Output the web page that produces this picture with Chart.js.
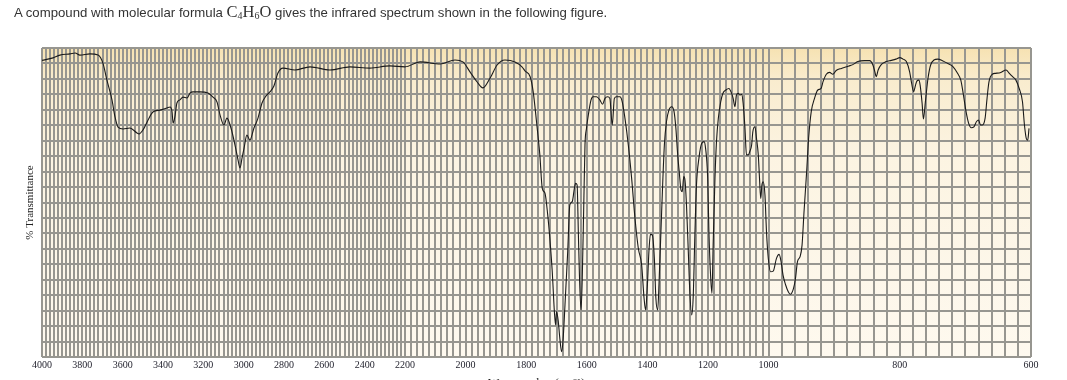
<!DOCTYPE html>
<html>
<head>
<meta charset="utf-8">
<script src="https://cdn.jsdelivr.net/npm/chart.js@4.4.1/dist/chart.umd.min.js"></script>
<style>
html,body{margin:0;padding:0;background:#fff;width:1067px;height:380px;overflow:hidden;}
#wrap{position:relative;width:1067px;height:380px;}
#heading{position:absolute;left:14px;top:3px;font-family:"Liberation Sans",Arial,sans-serif;font-size:13.2px;color:#333;white-space:nowrap;line-height:18px;}
#heading .f{font-family:"Liberation Serif","Times New Roman",serif;font-size:16.5px;color:#333;}
#heading .f sub{font-size:10px;vertical-align:-2px;line-height:0;}
canvas{position:absolute;left:0;top:0;}
</style>
</head>
<body>
<div id="wrap">
<canvas id="c" width="1067" height="380"></canvas>
<div id="heading">A compound with molecular formula <span class="f">C<sub>4</sub>H<sub>6</sub>O</span> gives the infrared spectrum shown in the following figure.</div>
</div>
<script>
// ---- data ----
const WAVENUMBER = [
4000,3945,3911,3861,3836,3812,3762,3722,3698,3678,3653,3638,3623,3598,3564,3529,3519,3499,3474,3450,
3415,3380,3365,3355,3350,3341,3331,3316,3301,3281,3266,3251,3217,3177,3152,3132,3117,3098,3083,3063,
3043,3028,3018,3008,2998,2984,2969,2949,2929,2909,2889,2870,2850,2830,2805,2746,2671,2572,2473,2374,
2275,2200,2150,2084,2035,2009,1985,1962,1943,1919,1896,1870,1837,1814,1804,1787,1777,1766,1755,1747,
1738,1729,1722,1714,1707,1703,1700,1694,1689,1683,1678,1672,1663,1656,1648,1641,1637,1632,1628,1624,
1619,1615,1610,1606,1601,1595,1586,1579,1568,1557,1548,1540,1531,1524,1516,1509,1502,1491,1483,1474,
1463,1452,1441,1430,1419,1411,1406,1400,1395,1390,1384,1377,1372,1366,1361,1353,1344,1337,1329,1320,
1312,1306,1300,1295,1289,1285,1280,1276,1271,1265,1260,1254,1249,1243,1238,1230,1221,1213,1208,1201,
1197,1191,1187,1183,1177,1172,1166,1158,1151,1141,1131,1122,1117,1111,1106,1100,1095,1089,1084,1078,
1073,1067,1062,1056,1052,1045,1040,1034,1030,1026,1022,1018,1012,1007,1001,997,993,988,984,981,
978,974,970,967,962,959,956,952,949,946,942,939,935,930,925,920,917,912,907,902,
897,889,881,876,871,864,854,846,841,838,836,833,828,821,813,806,800,795,790,785,
782,779,776,774,771,769,766,764,761,757,753,748,742,735,727,719,712,707,703,699,
695,691,687,683,680,677,674,670,667,664,659,654,646,638,633,628,623,618,613,610,
607,605,603
];
const TRANSMITTANCE = [
96.0,96.8,97.7,98.1,98.4,97.7,98.1,97.7,95.1,89.6,83.2,77.7,74.4,73.8,74.1,72.5,72.2,73.5,76.7,79.3,
79.9,80.6,80.9,79.3,75.7,77.7,82.2,83.2,84.1,83.8,85.4,85.8,85.8,85.4,84.1,82.5,78.3,75.1,77.3,74.1,
68.6,63.8,61.2,64.4,67.6,71.8,70.2,74.1,77.3,82.2,84.5,85.8,87.7,91.9,93.5,92.9,93.9,92.9,93.9,93.5,
94.2,93.9,95.5,94.8,96.1,95.5,92.2,89.0,87.1,90.3,94.5,96.1,95.5,93.9,92.6,90.7,85.9,76.2,65.4,54.6,
53.0,46.0,38.4,27.6,14.7,10.4,14.7,11.4,6.0,1.7,6.0,16.8,34.1,49.2,50.3,54.6,56.2,55.7,40.6,25.5,
15.2,25.5,49.2,68.6,74.0,78.3,83.2,84.2,84.2,83.2,81.8,83.7,84.2,83.7,75.1,83.7,84.2,84.2,82.6,77.2,
68.6,57.8,44.9,35.2,29.8,19.0,15.2,23.3,34.1,39.7,39.5,31.9,19.0,15.2,25.5,47.0,68.6,76.2,79.9,81.0,
79.4,74.0,65.4,60.0,54.0,53.5,58.4,57.3,49.2,34.1,21.1,13.6,19.0,40.6,55.7,64.3,69.1,69.7,67.5,57.8,
40.6,25.5,20.6,36.2,57.8,69.7,77.2,82.6,85.3,86.4,86.9,85.3,83.7,81.0,84.8,85.3,84.8,85.0,82.1,74.0,
65.4,65.4,66.5,68.6,72.9,74.5,70.8,65.4,57.8,51.3,55.7,56.7,52.4,40.6,31.9,27.6,27.8,31.9,33.2,30.9,
26.5,23.3,21.1,20.3,22.2,25.5,30.9,32.5,36.2,47.0,60.0,70.8,79.4,83.7,86.4,86.9,89.1,91.5,92.1,91.5,
92.7,93.4,93.9,94.3,94.7,95.6,95.9,95.9,94.5,92.3,90.7,92.9,94.7,95.6,96.0,96.4,96.9,96.4,95.6,92.3,
88.6,85.9,88.0,89.3,89.6,88.0,82.1,77.0,82.6,90.2,94.5,96.1,96.4,95.9,95.0,94.0,91.8,89.6,84.8,79.4,
75.6,74.2,74.5,76.2,76.7,75.1,75.1,77.2,83.7,89.1,91.5,91.8,92.1,92.9,91.8,90.7,89.6,86.9,82.6,75.1,
70.6,70.2,74.0
];
const TICK_LABELS = [4000,3800,3600,3400,3200,3000,2800,2600,2400,2200,2000,1800,1600,1400,1200,1000,800,600];
const GRID_VALUES = [];
for (let v = 4000; v >= 600; v -= 20) GRID_VALUES.push(v);

// ---- chart-paper axis: three linear sections (4000-2200, 2200-1000, 1000-600) ----
const SEG_WN = [4000, 2200, 1000, 600];
const SEG_FRAC = [0, 363 / 989, 726.6 / 989, 1];
function wnToFrac(v) {
  for (let i = 0; i < SEG_WN.length - 1; i++) {
    const a = SEG_WN[i], b = SEG_WN[i + 1];
    if (v >= b || i === SEG_WN.length - 2) {
      return SEG_FRAC[i] + (a - v) / (a - b) * (SEG_FRAC[i + 1] - SEG_FRAC[i]);
    }
  }
}
function fracToWn(f) {
  for (let i = 0; i < SEG_FRAC.length - 1; i++) {
    const a = SEG_FRAC[i], b = SEG_FRAC[i + 1];
    if (f <= b || i === SEG_FRAC.length - 2) {
      return SEG_WN[i] - (f - a) / (b - a) * (SEG_WN[i] - SEG_WN[i + 1]);
    }
  }
}
class PiecewiseScale extends Chart.LinearScale {
  getPixelForValue(v) {
    if (v === null || v === undefined || isNaN(v)) return NaN;
    return this.getPixelForDecimal(wnToFrac(v));
  }
  getValueForPixel(p) {
    return fracToWn(this.getDecimalForPixel(p));
  }
}
PiecewiseScale.id = 'piecewise';
PiecewiseScale.defaults = {};
Chart.register(PiecewiseScale);

const paper = {
  id: 'paper',
  beforeDraw(chart) {
    const {ctx, chartArea: a} = chart;
    const g = ctx.createLinearGradient(0, a.top, 0, a.bottom);
    g.addColorStop(0, '#f6e2b2');
    g.addColorStop(0.1, '#f9ecce');
    g.addColorStop(0.35, '#fcf4e2');
    g.addColorStop(1, '#fef9ef');
    ctx.save();
    ctx.fillStyle = g;
    ctx.fillRect(a.left, a.top, a.right - a.left, a.bottom - a.top);
    ctx.restore();
  }
};

const SERIF = '"Liberation Serif", "Times New Roman", serif';
const GRID = '#979690';

new Chart(document.getElementById('c'), {
  type: 'line',
  data: {
    datasets: [{
      data: WAVENUMBER.map((w, i) => ({x: w, y: TRANSMITTANCE[i]})),
      borderColor: '#1b1b1b',
      borderWidth: 1.1,
      pointRadius: 0,
      fill: false,
      tension: 0.4,
      cubicInterpolationMode: 'monotone'
    }]
  },
  options: {
    responsive: false,
    animation: false,
    layout: {padding: {top: 48, right: 36, left: 0, bottom: 0}},
    plugins: {legend: {display: false}, tooltip: {enabled: false}},
    scales: {
      x: {
        type: 'piecewise',
        min: 600,
        max: 4000,
        afterBuildTicks: s => { s.ticks = GRID_VALUES.map(v => ({value: v})); },
        afterFit: s => { s.height = 23; },
        ticks: {
          autoSkip: false, maxRotation: 0, minRotation: 0, padding: 2,
          font: {family: SERIF, size: 10}, color: '#1e1e2a',
          callback: v => TICK_LABELS.includes(v) ? String(v) : ''
        },
        grid: {color: GRID, lineWidth: 2, drawTicks: false},
        border: {display: false},
        title: {display: true, text: 'Wavenumber (cm\u207B\u00B9)', font: {family: SERIF, size: 12},
                color: '#222', padding: {top: 0, bottom: -11.5}}
      },
      y: {
        min: 0, max: 100,
        afterFit: s => { s.width = 42; },
        ticks: {display: false, stepSize: 5},
        grid: {color: GRID, lineWidth: 2, drawTicks: false},
        border: {display: false},
        title: {display: true, text: '% Transmittance', font: {family: SERIF, size: 11},
                color: '#222', padding: {top: 24, bottom: 0}}
      }
    }
  },
  plugins: [paper]
});
</script>
</body>
</html>
